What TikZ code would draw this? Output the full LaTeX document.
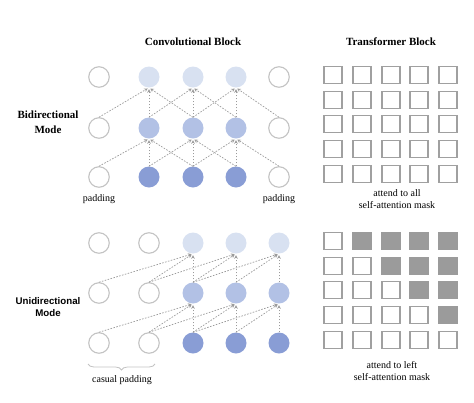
\documentclass[tikz,border=0pt]{standalone}
\usepackage{fontspec}
\setmainfont{Liberation Serif}
\newfontfamily\arialfont{Liberation Sans}
\usetikzlibrary{arrows.meta,decorations.pathreplacing}
\definecolor{lightc}{RGB}{216,225,241}
\definecolor{midc}{RGB}{178,193,229}
\definecolor{darkc}{RGB}{137,157,213}
\definecolor{padgray}{RGB}{195,195,195}
\definecolor{arrgray}{RGB}{155,155,155}
\definecolor{sqgray}{RGB}{160,160,160}
\definecolor{sqfill}{RGB}{155,155,155}
\tikzset{
  padc/.style={circle,draw=padgray,line width=1.1pt,minimum size=20.5pt,inner sep=0pt,fill=white},
  colc/.style={circle,draw=none,minimum size=21pt,inner sep=0pt,fill=#1},
  conn/.style={draw=arrgray,line width=0.7pt,dash pattern=on 1.6pt off 1.4pt,
    -{Stealth[length=3.6pt,width=3.8pt,open]},shorten >=1.5pt},
  sqe/.style={draw=sqgray,line width=1.1pt,minimum width=18pt,minimum height=17.5pt,inner sep=0pt,fill=white},
  sqf/.style={draw=sqfill,line width=1.1pt,minimum width=18pt,minimum height=17.5pt,inner sep=0pt,fill=sqfill},
  ttl/.style={font=\bfseries\fontsize{11}{13}\selectfont},
  lbl/.style={font=\fontsize{10}{11.5}\selectfont,align=center},
}
\begin{document}
\begin{tikzpicture}[x=1pt,y=-1pt]
\useasboundingbox (0,0) rectangle (474,402);
% titles
\node[ttl] (tconv) at (193,42) {Convolutional Block};
\node[ttl] (ttrans) at (391,42) {Transformer Block};
\node[align=center,font=\bfseries\fontsize{11}{15}\selectfont] (bimode) at (48,122) {Bidirectional\\Mode};
\node[align=center,font=\arialfont\bfseries\fontsize{9.7}{12}\selectfont] (unimode) at (48,307) {Unidirectional\\Mode};
% bidirectional circles
\foreach \c/\x in {0/99,1/149,2/193,3/236,4/279}{
  \foreach \r/\y in {0/77,1/128,2/177}{
    \ifnum\c=0 \node[padc] (b-\r-\c) at (\x,\y) {};
    \else\ifnum\c=4 \node[padc] (b-\r-\c) at (\x,\y) {};
    \else
      \ifnum\r=0 \node[colc=lightc] (b-\r-\c) at (\x,\y) {};\fi
      \ifnum\r=1 \node[colc=midc] (b-\r-\c) at (\x,\y) {};\fi
      \ifnum\r=2 \node[colc=darkc] (b-\r-\c) at (\x,\y) {};\fi
    \fi\fi
  }
}
\foreach \c in {1,2,3}{
  \foreach \d in {-1,0,1}{
    \pgfmathtruncatemacro{\s}{\c+\d}
    \draw[conn] (b-2-\s.north) -- (b-1-\c.south);
    \draw[conn] (b-1-\s.north) -- (b-0-\c.south);
  }
}
\node[lbl] (padl) at (99,199) {padding};
\node[lbl] (padr) at (279,199) {padding};
% unidirectional circles
\foreach \c/\x in {0/99,1/149,2/193,3/236,4/279}{
  \foreach \r/\y in {0/243,1/293,2/343}{
    \ifnum\c<2 \node[padc] (u-\r-\c) at (\x,\y) {};
    \else
      \ifnum\r=0 \node[colc=lightc] (u-\r-\c) at (\x,\y) {};\fi
      \ifnum\r=1 \node[colc=midc] (u-\r-\c) at (\x,\y) {};\fi
      \ifnum\r=2 \node[colc=darkc] (u-\r-\c) at (\x,\y) {};\fi
    \fi
  }
}
\foreach \c in {2,3,4}{
  \foreach \d in {-2,-1,0}{
    \pgfmathtruncatemacro{\s}{\c+\d}
    \draw[conn] (u-2-\s.north) -- (u-1-\c.south);
    \draw[conn] (u-1-\s.north) -- (u-0-\c.south);
  }
}
\coordinate (brl) at (88,364);
\coordinate (brr) at (155,364);
\draw[padgray,line width=0.8pt,decorate,decoration={brace,mirror,amplitude=6pt}] (brl) -- (brr);
\node[lbl] (cpad) at (122,380) {casual padding};
% transformer grids
\foreach \j/\x in {0/333,1/362,2/391,3/419,4/448}{
  \foreach \i/\y in {0/75,1/100,2/124,3/149,4/174}{
    \node[sqe] (ta-\i-\j) at (\x,\y) {};
  }
  \foreach \i/\y in {0/241,1/266,2/290,3/315,4/340}{
    \ifnum\j>\i \node[sqf] (tb-\i-\j) at (\x,\y) {};
    \else \node[sqe] (tb-\i-\j) at (\x,\y) {};\fi
  }
}
\node[lbl] (ta-lbl) at (397,199) {attend to all\\self-attention mask};
\node[lbl] (tb-lbl) at (392,371) {attend to left\\self-attention mask};
\end{tikzpicture}
\end{document}
